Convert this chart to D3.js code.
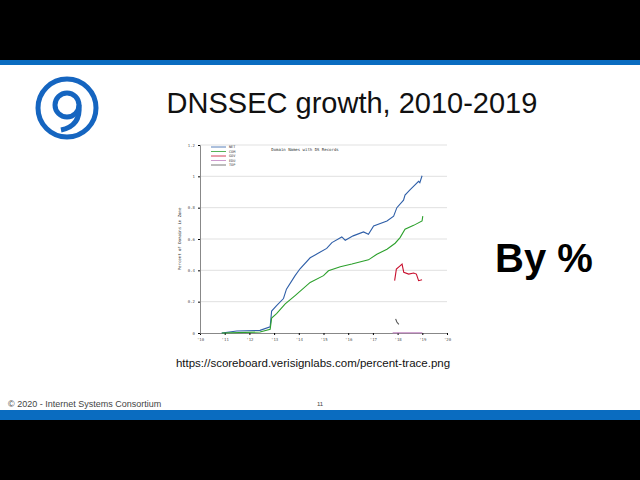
<!doctype html>
<meta charset="utf-8">
<title>DNSSEC growth</title>
<script src="https://d3js.org/d3.v7.min.js"></script>
<style>
body { margin: 0; background: #000; }
text { font-family: "Liberation Sans", Arial, sans-serif; }
.mono { font-family: "DejaVu Sans Mono", monospace; }
</style>
<svg id="slide" width="640" height="480"></svg>
<script>
// series: [year, fraction]
var netData = [[2010.88,0],[2011.49,0.013],[2012.43,0.017],[2012.84,0.04],[2012.9,0.14],[2013.1,0.175],
  [2013.38,0.22],[2013.5,0.28],[2013.85,0.366],[2014.05,0.41],[2014.46,0.48],[2014.8,0.51],[2015.13,0.54],
  [2015.34,0.577],[2015.74,0.613],[2015.88,0.592],[2016.2,0.62],[2016.62,0.645],[2016.82,0.63],
  [2017.03,0.683],[2017.57,0.715],[2017.84,0.746],[2017.97,0.8],[2018.24,0.848],[2018.3,0.88],
  [2018.51,0.915],[2018.85,0.968],[2018.9,0.96],[2018.99,1.004]];
var comData = [[2010.88,0],[2012.43,0.006],[2012.84,0.023],[2012.9,0.095],[2013.1,0.123],[2013.45,0.186],
  [2013.85,0.239],[2014.46,0.323],[2015.0,0.366],[2015.2,0.397],[2015.68,0.423],[2016.15,0.44],
  [2016.82,0.467],[2017.16,0.503],[2017.57,0.535],[2017.9,0.573],[2018.1,0.609],[2018.3,0.662],
  [2018.65,0.687],[2018.99,0.715],[2019.02,0.746]];
var govData = [[2017.88,0.334],[2017.95,0.408],[2018.1,0.429],[2018.18,0.44],[2018.25,0.387],
  [2018.45,0.376],[2018.65,0.383],[2018.76,0.376],[2018.85,0.334],[2018.99,0.34]];
var eduData = [[2017.8,0.001],[2019.0,0.001]];
var topData = [[2017.92,0.09],[2017.97,0.07],[2018.05,0.055]];
var seriesNames = ["NET", "COM", "GOV", "EDU", "TOP"];
var seriesColors = ["#2f5fa8", "#2ca02c", "#c8102e", "#c080c0", "#555555"];
var yearTicks = d3.range(2010, 2021);
var yTicks = [0, 0.2, 0.4, 0.6, 0.8, 1, 1.2];

var svg = d3.select("#slide");
svg.append("rect").attr("x", 0).attr("y", 60).attr("width", 640).attr("height", 360).attr("fill", "#fff");
svg.append("rect").attr("x", 0).attr("y", 60).attr("width", 640).attr("height", 5).attr("fill", "#0a6cc0");
svg.append("rect").attr("x", 0).attr("y", 410).attr("width", 640).attr("height", 10).attr("fill", "#0a6cc0");

// logo: ring with a "9" inside
var logo = svg.append("g").attr("transform", "translate(67,108)")
  .attr("fill", "none").attr("stroke", "#1565c0").attr("stroke-width", 5);
logo.append("circle").attr("r", 29);
logo.append("circle").attr("cx", 0).attr("cy", -3).attr("r", 12);
logo.append("path").attr("d", "M 12 -3 Q 14 18 -6 22");

svg.append("text").attr("x", 352).attr("y", 113).attr("text-anchor", "middle")
  .attr("font-size", 29).attr("fill", "#111").text("DNSSEC growth, 2010-2019");
svg.append("text").attr("x", 544).attr("y", 272).attr("text-anchor", "middle")
  .attr("font-size", 40).attr("font-weight", "bold").attr("fill", "#000").text("By %");
svg.append("text").attr("x", 313).attr("y", 367).attr("text-anchor", "middle")
  .attr("font-size", 11.5).attr("fill", "#111").text("https://scoreboard.verisignlabs.com/percent-trace.png");
svg.append("text").attr("x", 8).attr("y", 407).attr("font-size", 9).attr("fill", "#444")
  .text("© 2020 - Internet Systems Consortium");
svg.append("text").attr("x", 320).attr("y", 406).attr("text-anchor", "middle")
  .attr("font-size", 6).attr("fill", "#444").text("11");

// chart
var x = d3.scaleLinear().domain([2010, 2020]).range([200, 447]);
var y = d3.scaleLinear().domain([0, 1.2]).range([333, 145]);
var chart = svg.append("g");
chart.selectAll(".grid").data(yTicks.slice(1)).enter().append("line")
  .attr("x1", 200).attr("x2", 447).attr("y1", y).attr("y2", y)
  .attr("stroke", "#ccc").attr("stroke-width", 0.6);
chart.append("g").attr("transform", "translate(0,333)")
  .call(d3.axisBottom(x).tickValues(yearTicks).tickSize(2)
    .tickFormat(function (d) { return "'" + String(d).slice(2); }))
  .call(function (g) {
    g.select(".domain").attr("stroke", "#888");
    g.selectAll("text").attr("font-size", 4).attr("fill", "#555").attr("class", "mono");
  });
chart.append("g").attr("transform", "translate(200,0)")
  .call(d3.axisLeft(y).tickValues(yTicks).tickSize(2).tickFormat(d3.format("")))
  .call(function (g) {
    g.select(".domain").attr("stroke", "#888");
    g.selectAll("text").attr("font-size", 4).attr("fill", "#555").attr("class", "mono");
  });
chart.append("text").attr("class", "mono").attr("font-size", 4).attr("fill", "#333")
  .attr("transform", "translate(181,239) rotate(-90)").attr("text-anchor", "middle")
  .text("Percent of Domains in Zone");
chart.append("text").attr("class", "mono").attr("font-size", 4).attr("fill", "#333")
  .attr("x", 305).attr("y", 151).attr("text-anchor", "middle").text("Domain Names with DS Records");

var line = d3.line().x(function (d) { return x(d[0]); }).y(function (d) { return y(d[1]); });
[netData, comData, govData, eduData, topData].forEach(function (data, i) {
  chart.append("path").datum(data).attr("d", line).attr("fill", "none")
    .attr("stroke", seriesColors[i]).attr("stroke-width", 1.1);
});

var legend = chart.selectAll(".leg").data(seriesNames).enter().append("g")
  .attr("transform", function (d, i) { return "translate(211," + (147 + i * 4.5) + ")"; });
legend.append("line").attr("x1", 0).attr("x2", 15)
  .attr("stroke", function (d, i) { return seriesColors[i]; }).attr("stroke-width", 0.8);
legend.append("text").attr("class", "mono").attr("x", 18).attr("y", 1.3)
  .attr("font-size", 3.5).attr("fill", "#333").text(function (d) { return d; });
</script>
